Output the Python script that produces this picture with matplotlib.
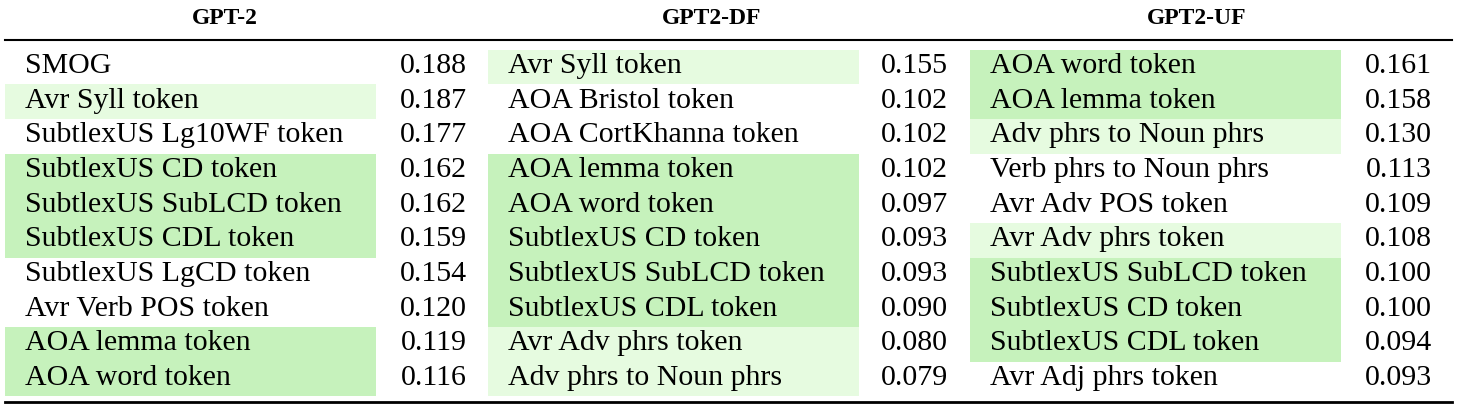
import matplotlib
matplotlib.use("Agg")
import matplotlib.pyplot as plt
from matplotlib.patches import Rectangle

titles = ["GPT-2", "GPT2-DF", "GPT2-UF"]
names1 = ["SMOG", "Avr Syll token", "SubtlexUS Lg10WF token", "SubtlexUS CD token", "SubtlexUS SubLCD token",
          "SubtlexUS CDL token", "SubtlexUS LgCD token", "Avr Verb POS token", "AOA lemma token", "AOA word token"]
vals1 = [0.188, 0.187, 0.177, 0.162, 0.162, 0.159, 0.154, 0.120, 0.119, 0.116]
shade1 = [0, 1, 0, 2, 2, 2, 0, 0, 2, 2]
names2 = ["Avr Syll token", "AOA Bristol token", "AOA CortKhanna token", "AOA lemma token", "AOA word token",
          "SubtlexUS CD token", "SubtlexUS SubLCD token", "SubtlexUS CDL token", "Avr Adv phrs token", "Adv phrs to Noun phrs"]
vals2 = [0.155, 0.102, 0.102, 0.102, 0.097, 0.093, 0.093, 0.090, 0.080, 0.079]
shade2 = [1, 0, 0, 2, 2, 2, 2, 2, 1, 1]
names3 = ["AOA word token", "AOA lemma token", "Adv phrs to Noun phrs", "Verb phrs to Noun phrs", "Avr Adv POS token",
          "Avr Adv phrs token", "SubtlexUS SubLCD token", "SubtlexUS CD token", "SubtlexUS CDL token", "Avr Adj phrs token"]
vals3 = [0.161, 0.158, 0.130, 0.113, 0.109, 0.108, 0.100, 0.100, 0.094, 0.093]
shade3 = [2, 2, 1, 0, 0, 1, 2, 2, 2, 0]

colors = {1: "#e6fbe0", 2: "#c6f2bc"}
fig = plt.figure(figsize=(14.57, 4.09), dpi=100)
ax = fig.add_axes([0, 0, 1, 1])
ax.set_xlim(0, 1457); ax.set_ylim(409, 0); ax.axis("off")
font = "Liberation Serif"
groups = [(names1, vals1, shade1), (names2, vals2, shade2), (names3, vals3, shade3)]
x0s = [5, 488, 970]
vx = [467, 948, 1432]
hx = [225, 712, 1197]
y0, dy = 66, 34.67
for g, (names, vals, shade) in enumerate(groups):
    ax.text(hx[g], 18, titles[g], ha="center", va="center", fontsize=17, fontweight="bold", family=font)
    for i, (n, v, s) in enumerate(zip(names, vals, shade)):
        y = y0 + i * dy
        if s:
            ax.add_patch(Rectangle((x0s[g], y - dy / 2 + 1), 371, dy, color=colors[s], lw=0))
        ax.text(x0s[g] + 20, y, n, ha="left", va="center", fontsize=21.5, family=font)
        ax.text(vx[g], y, f"{v:.3f}", ha="right", va="center", fontsize=21.5, family=font)
ax.plot([5, 1452], [40, 40], color="black", lw=1.5)
ax.plot([5, 1452], [402, 402], color="black", lw=2)
fig.savefig("out.png", dpi=100)
